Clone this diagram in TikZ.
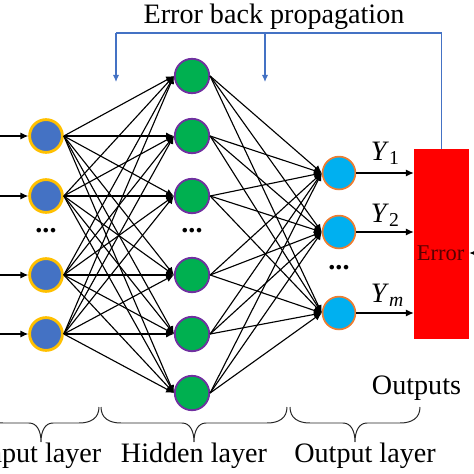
\documentclass[tikz,border=0pt]{standalone}
\usepackage{fontspec}
\setmainfont{Liberation Serif}
\usetikzlibrary{arrows.meta}
\tikzset{>={Latex[length=5.5pt,width=5pt]}}
\definecolor{inblue}{HTML}{4472C4}
\definecolor{ingold}{HTML}{FFC000}
\definecolor{hidgreen}{HTML}{00B050}
\definecolor{hidpurple}{HTML}{7030A0}
\definecolor{outcyan}{HTML}{00B0F0}
\definecolor{outorange}{HTML}{ED7D31}
\colorlet{bpblue}{inblue}
\colorlet{errtxt}{red!35!black}
\tikzset{
  neuron/.style={circle,inner sep=0pt},
  innode/.style={neuron,minimum size=0.82cm,fill=inblue,draw=ingold,line width=2pt},
  hidnode/.style={neuron,minimum size=0.86cm,fill=hidgreen,draw=hidpurple,line width=1.3pt},
  outnode/.style={neuron,minimum size=0.82cm,fill=outcyan,draw=outorange,line width=1.2pt},
  wire/.style={->,line width=0.8pt},
  bpline/.style={bpblue,line width=0.9pt,>={Latex[length=5pt,width=4.5pt]}},
  lbl/.style={anchor=base,font=\fontsize{20}{24}\selectfont},
  moredots/.style={font=\fontsize{20}{24}\selectfont\bfseries},
  errbox/.style={fill=red,minimum width=1.375cm,minimum height=4.725cm,inner sep=0pt},
}
\tikzset{
  layerbrace/.pic={
    \tikzset{/layerbrace/.cd,#1}
    \draw[line width=0.7pt,black!85]
      (-\bhalf,0) .. controls (-\bhalf,11) and (-\bhalf+8,16) .. (-\bhalf+20,16)
      -- (-12,16) .. controls (-4,16) and (0,24) .. (0,35)
      .. controls (0,24) and (4,16) .. (12,16)
      -- (\bhalf-20,16) .. controls (\bhalf-8,16) and (\bhalf,11) .. (\bhalf,0);
  },
  /layerbrace/.search also={/tikz},
  /layerbrace/.cd,
  half/.store in=\bhalf, half=50,
}

\begin{document}
\begin{tikzpicture}[x=0.025cm,y=-0.025cm]
  \useasboundingbox (0,0) rectangle (474,474);
  % input layer
  \node[innode] (i1) at (46,136) {};
  \node[innode] (i2) at (46,196) {};
  \node[innode] (i3) at (46,275) {};
  \node[innode] (i4) at (46,334) {};
  \node[moredots] (idots) at (46,231) {...};
  % hidden layer
  \node[hidnode] (h1) at (192,76) {};
  \node[hidnode] (h2) at (192,136) {};
  \node[hidnode] (h3) at (192,196) {};
  \node[hidnode] (h4) at (192,275) {};
  \node[hidnode] (h5) at (192,334) {};
  \node[hidnode] (h6) at (192,393) {};
  \node[moredots] (hdots) at (192,231) {...};
  % output layer
  \node[outnode] (o1) at (339,173) {};
  \node[outnode] (o2) at (339,232) {};
  \node[outnode] (o3) at (339,313) {};
  \node[moredots] (odots) at (339,268) {...};
  \node[errbox] (err) at (441.5,244) {};
  \node[anchor=base,font=\fontsize{16}{19}\selectfont,text=errtxt] (errlbl) at (440.5,260) {Error};

  \foreach \a in {1,...,4}{
    \coordinate (src\a) at (i\a.west -| 0,0);
    \draw[wire] (src\a) -- (i\a.west);
    \foreach \b in {1,...,6}
      \draw[wire] (i\a.east) -- (h\b.west);
  }
  \foreach \b in {1,...,6}
    \foreach \c in {1,2,3}
      \draw[wire] (h\b.east) -- (o\c.west);
  \foreach \c in {1,2,3}
    \draw[wire] (o\c.east) -- (o\c.east -| err.west);
  \coordinate (fb) at (490,253);
  \draw[wire] (fb) -- (fb -| err.east);

  \node[lbl,anchor=base west] (y1) at (366,160) {\textit{Y}\textsubscript{1}};
  \node[lbl,anchor=base west] (y2) at (366,222) {\textit{Y}\textsubscript{2}};
  \node[lbl,anchor=base west] (ym) at (366,302) {\textit{Y}\textsubscript{\textit{m}}};

  % back propagation
  \node[lbl] (bptitle) at (274,23) {Error back propagation};
  \coordinate (bpL) at (116,33);
  \coordinate (bpM) at (265,33);
  \coordinate (tipL) at (116,82);
  \coordinate (tipM) at (265,82);
  \draw[bpline] (err.north) |- (bpL);
  \draw[bpline,->] (bpL) -- (tipL);
  \draw[bpline,->] (bpM) -- (tipM);

  % layers
  \pic at (41,407)  {layerbrace={half=58}};
  \pic at (194,407) {layerbrace={half=93}};
  \pic at (355,407) {layerbrace={half=65}};
  \node[lbl] (inlbl) at (40,462) {Input layer};
  \node[lbl] (hidlbl) at (194,462) {Hidden layer};
  \node[lbl] (outlbl) at (365,462) {Output layer};
  \node[lbl,anchor=base west] (outs) at (367,394) {Outputs};
\end{tikzpicture}
\end{document}
